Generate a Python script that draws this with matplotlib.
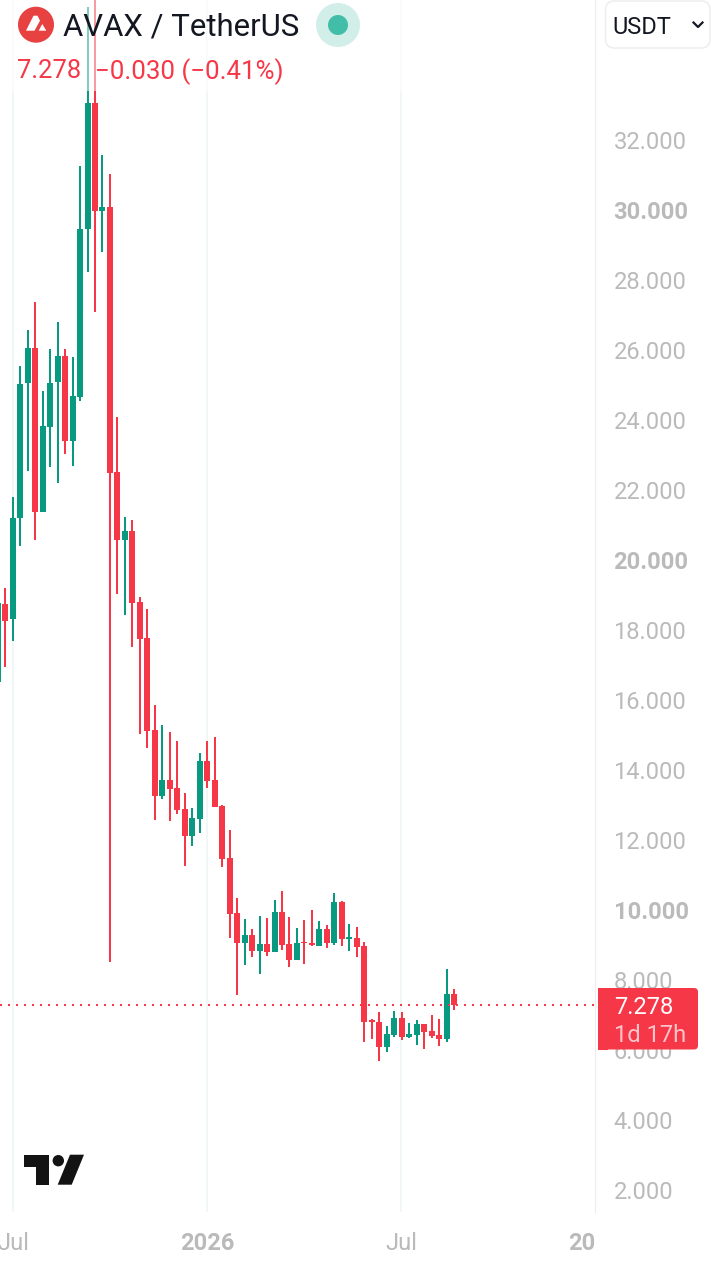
import numpy as np
import matplotlib
matplotlib.use("Agg")
import matplotlib.pyplot as plt
from matplotlib.patches import Circle, Rectangle, Polygon, FancyBboxPatch

plt.rcParams['font.family'] = ['Roboto', 'DejaVu Sans']

# Weekly AVAX / USDT candles
opens = [16.51, 18.74, 18.31, 21.20, 25.06, 26.06, 21.37, 23.80, 25.09, 25.83, 23.40, 24.66,
         29.46, 33.06, 29.97, 30.09, 22.51, 20.57, 20.83, 18.80, 17.77, 15.14, 13.26, 13.71,
         13.49, 12.89, 12.11, 12.60, 14.26, 13.71, 12.97, 11.49, 9.91, 9.06, 9.29, 8.83,
         9.03, 8.80, 9.94, 9.03, 8.57, 9.09, 9.06, 8.97, 9.46, 9.06, 10.23, 9.17,
         9.20, 8.97, 6.86, 6.80, 6.09, 6.43, 6.91, 6.37, 6.43, 6.74, 6.54, 6.43,
         6.31, 7.60]
highs = [18.77, 19.20, 21.80, 25.54, 26.57, 27.37, 24.83, 26.03, 26.80, 26.03, 25.80, 31.26,
         35.80, 36.30, 31.57, 31.03, 24.09, 21.23, 21.14, 18.94, 18.60, 15.86, 15.29, 15.09,
         14.83, 13.34, 12.91, 14.49, 14.83, 14.94, 13.00, 12.29, 10.34, 9.74, 9.46, 9.83,
         9.77, 10.29, 10.54, 9.80, 9.49, 9.71, 10.00, 9.69, 9.57, 10.49, 10.26, 9.60,
         9.51, 9.09, 6.89, 7.09, 6.69, 7.11, 7.09, 6.77, 6.86, 6.74, 7.00, 6.89,
         8.31, 7.74]
lows = [16.51, 16.94, 17.69, 20.40, 22.54, 20.57, 21.37, 22.66, 22.20, 23.03, 22.69, 24.54,
        28.23, 27.09, 28.80, 8.51, 19.03, 18.43, 17.51, 15.03, 14.63, 12.57, 13.17, 12.54,
        12.74, 11.26, 11.83, 12.20, 13.49, 12.94, 11.23, 9.20, 7.57, 8.43, 8.66, 8.17,
        8.69, 8.80, 8.86, 8.37, 8.57, 8.46, 8.97, 8.97, 8.91, 9.00, 8.97, 8.83,
        8.66, 6.23, 6.31, 5.69, 5.94, 6.37, 6.29, 6.34, 6.14, 6.03, 6.34, 6.11,
        6.23, 7.14]
closes = [18.77, 18.26, 21.20, 25.03, 26.06, 21.37, 23.83, 25.06, 25.83, 23.40, 24.69, 29.46,
          33.06, 29.97, 30.09, 22.49, 20.57, 20.83, 18.77, 17.74, 15.11, 13.26, 13.71, 13.46,
          12.86, 12.11, 12.63, 14.26, 13.69, 12.94, 11.46, 9.89, 9.06, 9.29, 8.83, 9.03,
          8.80, 9.94, 9.00, 8.57, 9.06, 9.06, 9.00, 9.46, 9.06, 10.23, 9.17, 9.23,
          8.94, 6.80, 6.80, 6.09, 6.46, 6.91, 6.37, 6.46, 6.74, 6.51, 6.40, 6.31,
          7.60, 7.278]

last_price = 7.278
price_ticks = [2, 4, 6, 8, 10, 12, 14, 16, 18, 20, 22, 24, 26, 28, 30, 32]
time_labels = ["Jul", "2026", "Jul", "20"]
time_ticks = [1.03, 26.97, 52.9, 77.05]
grid_weeks = [1.03, 26.97, 52.9]

GREEN = "#089981"
RED = "#F63748"
AXIS_GREY = "#BABABA"
px = 1 / 100 * 72  # one pixel in points

fig = plt.figure(figsize=(7.2, 12.68), dpi=100)
fig.patch.set_facecolor("white")

# Chart pane, 595 px wide and 1212 px high, 35 px per price unit
ax = fig.add_axes([0, 1 - 1212 / 1268, 595 / 720, 1212 / 1268])
ax.set_xlim(-0.70, 78.84)
ax.set_ylim(36 - 1212 / 35, 36)

x = np.arange(-1, len(opens) - 1)
o = np.array(opens)
c = np.array(closes)
colors = [GREEN if b >= a else RED for a, b in zip(opens, closes)]

for w in grid_weeks:
    ax.axvline(w, color="#EEF6F4", lw=1.6 * px, zorder=1)

ax.vlines(x, lows, highs, colors=colors, lw=2 * px, zorder=2)
ax.bar(x, np.abs(c - o), bottom=np.minimum(o, c), width=6 / 7.483, color=colors, linewidth=0, zorder=3)

ax.axhline(last_price, color=RED, lw=2 * px, linestyle=(0, (1, 3)), dash_capstyle="butt", zorder=4)

for side in ["top", "left", "bottom"]:
    ax.spines[side].set_visible(False)
ax.spines["right"].set_color("#EEEEEE")
ax.spines["right"].set_linewidth(1.2 * px)

ax.yaxis.tick_right()
ax.set_yticks(price_ticks)
ax.set_yticklabels(["%.3f" % p for p in price_ticks])
ax.tick_params(axis="y", length=0, pad=18.5 * px, labelsize=17.1, labelcolor=AXIS_GREY)
for p, lab in zip(price_ticks, ax.get_yticklabels()):
    if p % 10 == 0:
        lab.set_fontweight("bold")

ax.set_xticks(time_ticks)
ax.set_xticklabels(time_labels)
ax.tick_params(axis="x", length=0, pad=20 * px, labelsize=17, labelcolor=AXIS_GREY)
for lab in ax.get_xticklabels():
    if lab.get_text() != "Jul":
        lab.set_fontweight("bold")

# Overlay in picture pixels for the header, logo and price tag
ui = fig.add_axes([0, 0, 1, 1])
ui.set_xlim(0, 720)
ui.set_ylim(1268, 0)
ui.axis("off")

ui.add_patch(Rectangle((0, 0), 594, 91, facecolor="white", alpha=0.5, linewidth=0))

# AVAX logo
ui.add_patch(Circle((36, 24.7), 18, facecolor="#E84142", linewidth=0))
ui.add_patch(Polygon([(26, 30.7), (33.5, 15.7), (37.5, 15.7), (40, 20.7), (34.5, 30.7)], facecolor="white", linewidth=0))
ui.add_patch(Polygon([(38.7, 30.7), (42.3, 24), (46.3, 30.7)], facecolor="white", linewidth=0))

ui.text(63, 24, "AVAX / TetherUS", fontsize=22.45, color="#131722", va="center_baseline", ha="left")

# market status dot
ui.add_patch(Circle((338, 25), 22, facecolor="#D2EEE9", linewidth=0))
ui.add_patch(Circle((338, 25), 10, facecolor="#42BDA8", linewidth=0))

ui.text(17, 69, "7.278", fontsize=18.4, color=RED, va="center_baseline", ha="left")
ui.text(95, 69, "\u22120.030 (\u22120.41%)", fontsize=18.6, color=RED, va="center_baseline", ha="left")

# currency button
ui.add_patch(FancyBboxPatch((605.5, 1), 104.5, 47, boxstyle="round,pad=0,rounding_size=9",
                            facecolor="white", edgecolor="#EEEEEE", linewidth=1.6 * px))
ui.text(612, 24.5, "USDT", fontsize=17, color="#131722", va="center_baseline", ha="left")
ui.plot([693.5, 698, 702.5], [22.5, 27, 22.5], color="#131722", lw=2.2 * px)

# price tag
ui.add_patch(FancyBboxPatch((598, 988), 100, 61.5, boxstyle="round,pad=0,rounding_size=4",
                            facecolor=RED, linewidth=0, zorder=5))
ui.add_patch(Rectangle((598, 988), 10, 61.5, facecolor=RED, linewidth=0, zorder=5))
ui.text(614, 1005, "7.278", fontsize=17.1, color="white", va="center_baseline", ha="left", zorder=6)
ui.text(614, 1033, "1d 17h", fontsize=17.1, color="white", alpha=0.7, va="center_baseline", ha="left", zorder=6)

# TradingView mark
ui.add_patch(Polygon([(24, 1154.7), (49, 1154.7), (49, 1184.7), (36, 1184.7), (36, 1166.7), (24, 1166.7)],
                     facecolor="#131313", linewidth=0))
ui.add_patch(Circle((58.3, 1160.7), 5.7, facecolor="#131313", linewidth=0))
ui.add_patch(Polygon([(70, 1154.7), (84, 1154.7), (71.7, 1184.7), (57.7, 1184.7)], facecolor="#131313", linewidth=0))

fig.savefig("out.png", dpi=100)
